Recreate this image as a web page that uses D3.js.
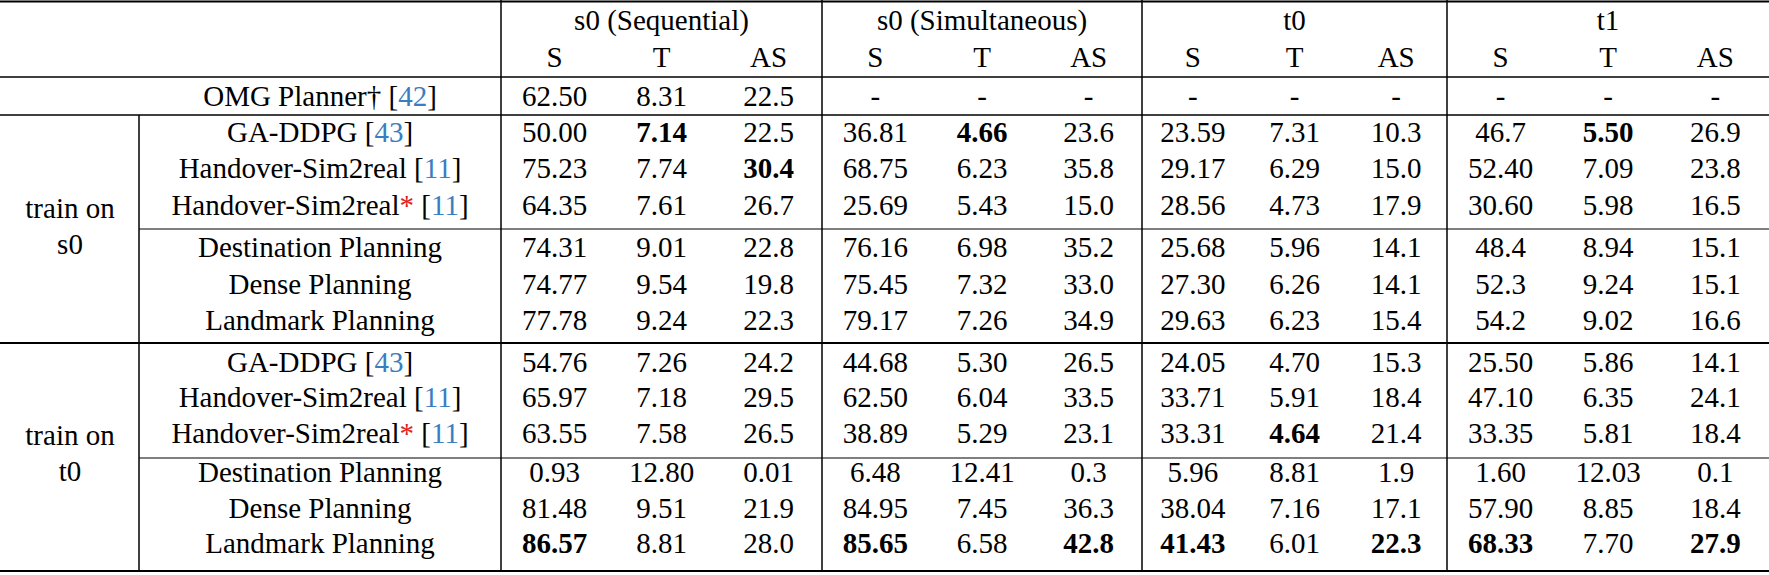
<!DOCTYPE html>
<html><head><meta charset="utf-8">
<script src="https://cdn.jsdelivr.net/npm/d3@7"></script>
<style>body{margin:0;background:#fff} svg text{font-family:"Liberation Serif","Tinos","Times New Roman","DejaVu Serif",serif;}</style></head>
<body><svg id="c" width="1769" height="575"></svg>
<script>
const groups = ["s0 (Sequential)", "s0 (Simultaneous)", "t0", "t1"];
const subCols = ["S", "T", "AS"];
const methods = [
  {name:"OMG Planner†", ref:"42", star:false},
  {name:"GA-DDPG", ref:"43", star:false},
  {name:"Handover-Sim2real", ref:"11", star:false},
  {name:"Handover-Sim2real", ref:"11", star:true},
  {name:"Destination Planning", ref:null, star:false},
  {name:"Dense Planning", ref:null, star:false},
  {name:"Landmark Planning", ref:null, star:false},
  {name:"GA-DDPG", ref:"43", star:false},
  {name:"Handover-Sim2real", ref:"11", star:false},
  {name:"Handover-Sim2real", ref:"11", star:true},
  {name:"Destination Planning", ref:null, star:false},
  {name:"Dense Planning", ref:null, star:false},
  {name:"Landmark Planning", ref:null, star:false}
];
const values = [
  ["62.50","8.31","22.5","-","-","-","-","-","-","-","-","-"],
  ["50.00","7.14","22.5","36.81","4.66","23.6","23.59","7.31","10.3","46.7","5.50","26.9"],
  ["75.23","7.74","30.4","68.75","6.23","35.8","29.17","6.29","15.0","52.40","7.09","23.8"],
  ["64.35","7.61","26.7","25.69","5.43","15.0","28.56","4.73","17.9","30.60","5.98","16.5"],
  ["74.31","9.01","22.8","76.16","6.98","35.2","25.68","5.96","14.1","48.4","8.94","15.1"],
  ["74.77","9.54","19.8","75.45","7.32","33.0","27.30","6.26","14.1","52.3","9.24","15.1"],
  ["77.78","9.24","22.3","79.17","7.26","34.9","29.63","6.23","15.4","54.2","9.02","16.6"],
  ["54.76","7.26","24.2","44.68","5.30","26.5","24.05","4.70","15.3","25.50","5.86","14.1"],
  ["65.97","7.18","29.5","62.50","6.04","33.5","33.71","5.91","18.4","47.10","6.35","24.1"],
  ["63.55","7.58","26.5","38.89","5.29","23.1","33.31","4.64","21.4","33.35","5.81","18.4"],
  ["0.93","12.80","0.01","6.48","12.41","0.3","5.96","8.81","1.9","1.60","12.03","0.1"],
  ["81.48","9.51","21.9","84.95","7.45","36.3","38.04","7.16","17.1","57.90","8.85","18.4"],
  ["86.57","8.81","28.0","85.65","6.58","42.8","41.43","6.01","22.3","68.33","7.70","27.9"]
];
// bold cells as [row, col]
const bold = [[1,1],[1,4],[1,10],[2,2],[9,7],[12,0],[12,3],[12,5],[12,6],[12,8],[12,9],[12,11]];
const blockLabels = [["train on","s0"],["train on","t0"]];

const svg = d3.select("#c");
const fs = 29;
const groupEdges = [501, 822, 1142, 1447, 1769];
const colX = [];
for (let g=0; g<4; g++) {
  const x = d3.scaleBand().domain(subCols).range([groupEdges[g], groupEdges[g+1]]);
  subCols.forEach(s => colX.push(x(s) + x.bandwidth()/2));
}
const rowY = [96,132,168,205,247,284,320,362,397,433,472,508,543];
const hdr1 = 20, hdr2 = 57;
const boldSet = new Set(bold.map(d=>d[0]+"_"+d[1]));

function text(x,y,t,opt={}) {
  return svg.append("text").attr("x",x).attr("y",y).attr("text-anchor","middle")
    .attr("dominant-baseline","central").attr("font-size",fs)
    .attr("font-weight",opt.bold?"bold":"normal").attr("fill","#000").text(t);
}
groups.forEach((g,i)=>text((groupEdges[i]+groupEdges[i+1])/2, hdr1, g));
colX.forEach((x,i)=>text(x, hdr2, subCols[i%3]));
methods.forEach((m,i)=>{
  const t = svg.append("text").attr("x",320).attr("y",rowY[i]).attr("text-anchor","middle")
    .attr("dominant-baseline","central").attr("font-size",fs);
  t.append("tspan").text(m.name);
  if (m.star) t.append("tspan").attr("fill","#e02020").text("*");
  if (m.ref) {
    t.append("tspan").text(" [");
    t.append("tspan").attr("fill","#3a7ebf").text(m.ref);
    t.append("tspan").text("]");
  }
});
values.forEach((row,i)=>row.forEach((v,j)=>text(colX[j], rowY[i], v, {bold: boldSet.has(i+"_"+j)})));
blockLabels.forEach((b,k)=>{
  const yc = k===0 ? (rowY[1]+rowY[6])/2 : (rowY[7]+rowY[12])/2;
  text(70, yc-18, b[0]); text(70, yc+18, b[1]);
});
function hl(y,x1,x2,w){svg.append("line").attr("x1",x1).attr("x2",x2).attr("y1",y).attr("y2",y).attr("stroke","#000").attr("stroke-width",w);}
function vl(x,y1,y2,w){svg.append("line").attr("x1",x).attr("x2",x).attr("y1",y1).attr("y2",y2).attr("stroke","#000").attr("stroke-width",w);}
hl(1.5,0,1769,2); hl(77,0,1769,1.5); hl(115,0,1769,1.5);
hl(229,139,1769,1.2); hl(343,0,1769,1.8); hl(458,139,1769,1.2); hl(571,0,1769,2);
groupEdges.slice(0,4).forEach(x=>vl(x,0,572,1.5));
vl(139,115,572,1.5);
</script></body></html>
